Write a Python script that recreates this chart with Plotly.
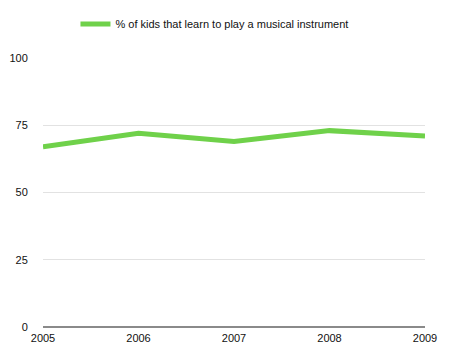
import plotly.graph_objects as go

years = ["2005", "2006", "2007", "2008", "2009"]
values = [67, 72, 69, 73, 71]
series_name = "% of kids that learn to play a musical instrument"
y_ticks = [0, 25, 50, 75, 100]

fig = go.Figure()
fig.add_trace(go.Scatter(
    x=years, y=values, mode="lines", name=series_name,
    line=dict(color="#6fd14a", width=5),
))

fig.update_layout(
    width=442, height=353,
    margin=dict(l=35, r=25, t=50, b=34, autoexpand=False),
    paper_bgcolor="white", plot_bgcolor="white",
    font=dict(family="Liberation Sans, Arial, sans-serif", size=11, color="#111"),
    showlegend=True,
    legend=dict(orientation="h", x=0.085, xanchor="left", y=1.126, yanchor="middle",
                itemwidth=30, font=dict(size=11), bgcolor="rgba(0,0,0,0)"),
    xaxis=dict(
        type="category", range=[0, 4], showgrid=False, zeroline=False,
        showline=False, ticks="outside", ticklen=1, tickcolor="rgba(0,0,0,0)",
        tickfont=dict(size=11), automargin=False,
    ),
    yaxis=dict(
        range=[0, 100], tickvals=y_ticks, showgrid=True, gridcolor="#e2e2e2",
        gridwidth=1, zeroline=True, zerolinecolor="#8a8a8a", zerolinewidth=1.5,
        ticks="outside", ticklen=12, tickcolor="rgba(0,0,0,0)",
        tickfont=dict(size=11), showline=False, automargin=False,
    ),
)

fig.write_html("out.html")
